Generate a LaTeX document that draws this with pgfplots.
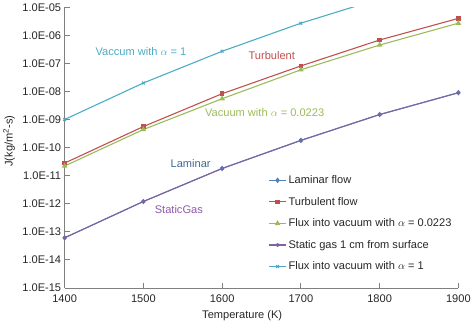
\documentclass[border=0pt]{standalone}
\usepackage{pgfplots}
\pgfplotsset{compat=1.18}
\usepackage{fontspec}
\setmainfont{Liberation Sans}
\definecolor{cLam}{HTML}{4F81BD}
\definecolor{cTur}{HTML}{C0504D}
\definecolor{cGrn}{HTML}{9BBB59}
\definecolor{cPur}{HTML}{8064A2}
\definecolor{cCya}{HTML}{4BACC6}
\definecolor{axgray}{HTML}{808080}
\begin{document}
\begin{tikzpicture}
\begin{axis}[
  scale only axis, width=397bp, height=283bp,
  ymode=log, xmin=1400, xmax=1900, ymin=1e-15, ymax=1e-5,
  axis x line*=bottom, axis y line*=left,
  axis line style={axgray, line width=0.8pt},
  tick style={axgray, line width=0.8pt}, tick align=inside,
  major tick length=5pt,
  xtick={1400,1500,1600,1700,1800,1900},
  xticklabels={1400,1500,1600,1700,1800,1900},
  ytick={1e-15,1e-14,1e-13,1e-12,1e-11,1e-10,1e-9,1e-8,1e-7,1e-6,1e-5},
  yticklabels={1.0E-15,1.0E-14,1.0E-13,1.0E-12,1.0E-11,1.0E-10,1.0E-09,1.0E-08,1.0E-07,1.0E-06,1.0E-05},
  yminorticks=false,
  ticklabel style={font=\fontsize{11.2}{13}\selectfont, text=black!85},
  xticklabel style={yshift=-3bp},
  xlabel={Temperature (K)}, ylabel={J(kg/m\textsuperscript{2}-s)},
  label style={font=\fontsize{11.2}{13}\selectfont, text=black!85},
  xlabel style={at={(axis description cs:0.451,-0.099)}, anchor=center},
  ylabel style={at={(axis description cs:-0.141,0.523)}, anchor=center},
  legend style={draw=none, fill=none, at={(0.51,0.415)}, anchor=north west,
    font=\fontsize{11.2}{13}\selectfont, row sep=8.2pt, text=black!85},
  legend cell align=left,
  every axis plot/.append style={line width=1.1pt, mark size=2pt},
]
\addplot[cLam, mark=diamond*] coordinates {(1400,6.1e-14) (1500,1.2e-12) (1600,1.8e-11) (1700,1.8e-10) (1800,1.5e-9) (1900,9e-9)};
\addlegendentry{Laminar flow}
\addplot[cTur, mark=square*, mark size=1.8pt] coordinates {(1400,2.8e-11) (1500,5.6e-10) (1600,8.3e-9) (1700,8.1e-8) (1800,6.8e-7) (1900,4e-6)};
\addlegendentry{Turbulent flow}
\addplot[cGrn, mark=triangle*, mark size=2.2pt] coordinates {(1400,2.2e-11) (1500,4.4e-10) (1600,5.5e-9) (1700,5.9e-8) (1800,4.5e-7) (1900,2.7e-6)};
\addlegendentry{Flux into vacuum with $\alpha$ = 0.0223}
\addplot[cPur, mark=asterisk, mark size=2pt] coordinates {(1400,6.1e-14) (1500,1.2e-12) (1600,1.8e-11) (1700,1.8e-10) (1800,1.5e-9) (1900,9e-9)};
\addlegendentry{Static gas 1 cm from surface}
\addplot[cCya, mark=x, mark size=2pt] coordinates {(1400,1e-9) (1500,2e-8) (1600,2.7e-7) (1700,2.7e-6) (1800,2e-5) (1900,1.3e-4)};
\addlegendentry{Flux into vacuum with $\alpha$ = 1}
\node[text=cCya, font=\fontsize{11.2}{13}\selectfont] at (axis cs:1497,2.6e-7) {Vaccum with $\alpha$ = 1};
\node[text=cTur, font=\fontsize{11.2}{13}\selectfont] at (axis cs:1663,1.9e-7) {Turbulent};
\node[text=cGrn, font=\fontsize{11.2}{13}\selectfont] at (axis cs:1654,1.7e-9) {Vacuum with $\alpha$ = 0.0223};
\node[text=cLam!80!black, font=\fontsize{11.2}{13}\selectfont] at (axis cs:1560,2.8e-11) {Laminar};
\node[text=cPur!90!magenta, font=\fontsize{11.2}{13}\selectfont] at (axis cs:1545,6.2e-13) {StaticGas};
\end{axis}
\end{tikzpicture}
\end{document}
